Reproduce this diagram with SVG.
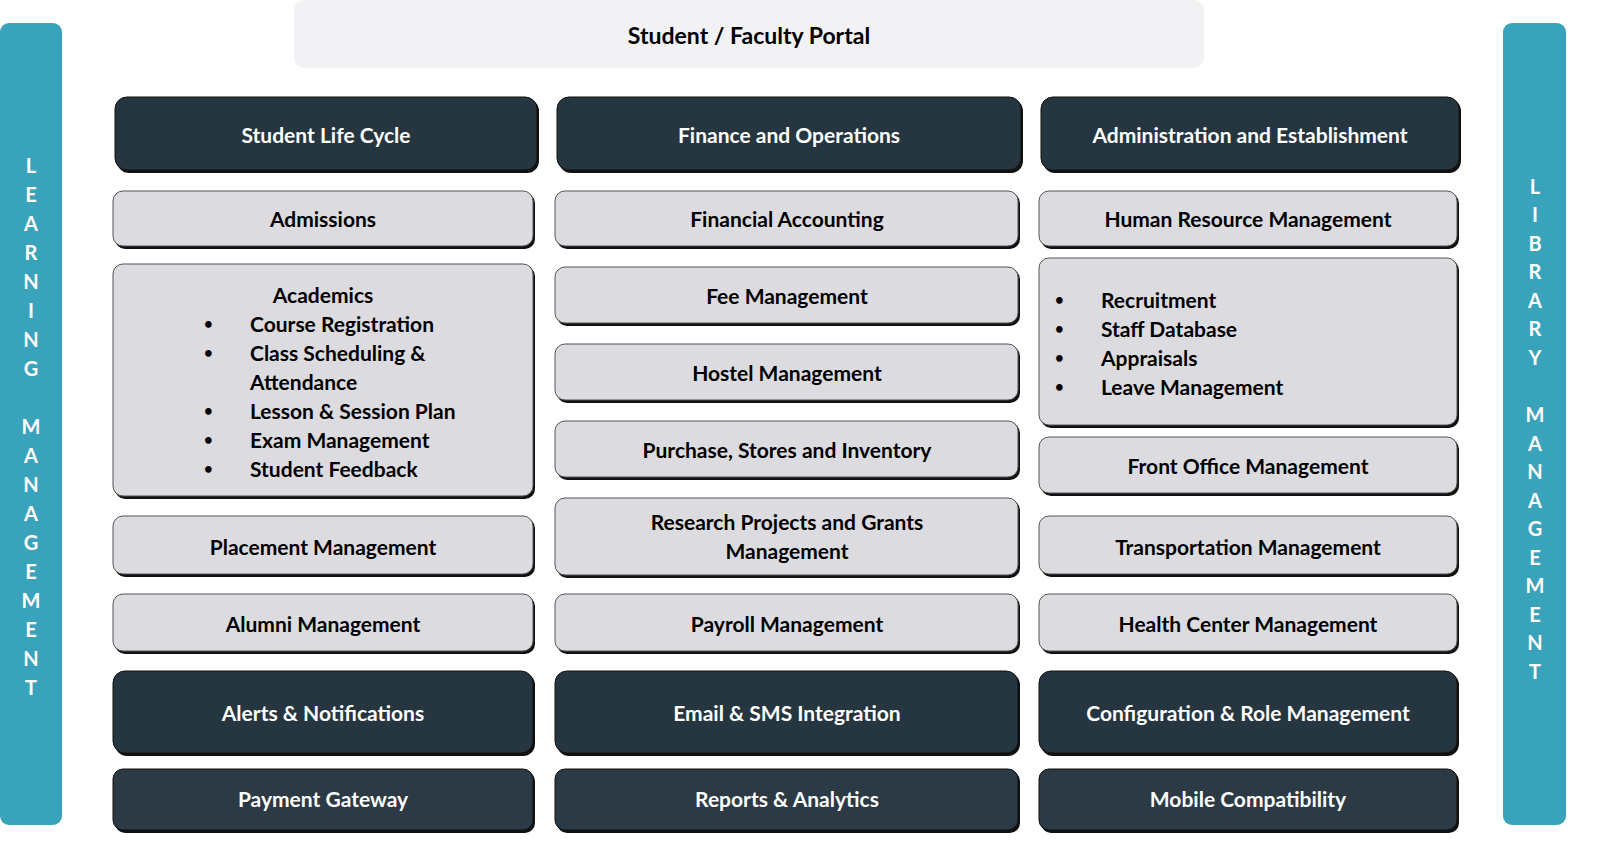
<svg xmlns="http://www.w3.org/2000/svg" width="1600" height="853" viewBox="0 0 1600 853">
<style>
text{font-family:Lato,"Open Sans","Liberation Sans",sans-serif;font-weight:bold;font-size:21px;text-anchor:middle;dominant-baseline:central}
.sh{fill:#111}
.lt{fill:#dcdbdf;stroke:#555;stroke-width:1}
.dk{fill:#263640;stroke:#111;stroke-width:1}
.bt{fill:#2b3a44;stroke:#111;stroke-width:1}
.w{fill:#fff}
.b{fill:#000}
.v{fill:#fff;font-size:20px}
.l{text-anchor:start}
.bu{font-size:15px}
</style>
<g id="learning">
<rect x="0" y="23" width="62" height="802" rx="9" fill="#3aa3bc"/>
<text class="v" x="31" y="165">L</text><text class="v" x="31" y="194">E</text><text class="v" x="31" y="223">A</text><text class="v" x="31" y="252">R</text><text class="v" x="31" y="281">N</text><text class="v" x="31" y="310">I</text><text class="v" x="31" y="339">N</text><text class="v" x="31" y="368">G</text>
<text class="v" x="31" y="426">M</text><text class="v" x="31" y="455">A</text><text class="v" x="31" y="484">N</text><text class="v" x="31" y="513">A</text><text class="v" x="31" y="542">G</text><text class="v" x="31" y="571">E</text><text class="v" x="31" y="600">M</text><text class="v" x="31" y="629">E</text><text class="v" x="31" y="658">N</text><text class="v" x="31" y="687">T</text>
</g>
<g id="library">
<rect x="1503" y="23" width="63" height="802" rx="9" fill="#3aa3bc"/>
<text class="v" x="1535" y="186">L</text><text class="v" x="1535" y="214">I</text><text class="v" x="1535" y="243">B</text><text class="v" x="1535" y="271">R</text><text class="v" x="1535" y="300">A</text><text class="v" x="1535" y="328">R</text><text class="v" x="1535" y="357">Y</text>
<text class="v" x="1535" y="414">M</text><text class="v" x="1535" y="443">A</text><text class="v" x="1535" y="471">N</text><text class="v" x="1535" y="500">A</text><text class="v" x="1535" y="528">G</text><text class="v" x="1535" y="557">E</text><text class="v" x="1535" y="585">M</text><text class="v" x="1535" y="614">E</text><text class="v" x="1535" y="642">N</text><text class="v" x="1535" y="671">T</text>
</g>
<g id="portal"><rect x="294" y="0" width="910" height="68" rx="10" fill="#f2f1f4"/><text class="b" x="749" y="35" style="font-size:23px">Student / Faculty Portal</text></g>

<g id="h1"><rect class="sh" x="117" y="99" width="422" height="74" rx="12"/><rect class="dk" x="115" y="97" width="422" height="73" rx="12"/><text class="w" x="326" y="134">Student Life Cycle</text></g>
<g id="h2"><rect class="sh" x="559" y="99" width="464" height="74" rx="12"/><rect class="dk" x="557" y="97" width="464" height="73" rx="12"/><text class="w" x="789" y="134">Finance and Operations</text></g>
<g id="h3"><rect class="sh" x="1043" y="99" width="418" height="74" rx="12"/><rect class="dk" x="1041" y="97" width="418" height="73" rx="12"/><text class="w" x="1250" y="134">Administration and Establishment</text></g>

<g id="admissions"><rect class="sh" x="115" y="193" width="420" height="56" rx="10"/><rect class="lt" x="113" y="191" width="420" height="55" rx="10"/><text class="b" x="323" y="218">Admissions</text></g>
<g id="academics"><rect class="sh" x="115" y="266" width="420" height="233" rx="10"/><rect class="lt" x="113" y="264" width="420" height="232" rx="10"/>
<text class="b" x="323" y="294">Academics</text>
<text class="b l bu" x="204" y="323">•</text><text class="b l" x="250" y="323">Course Registration</text>
<text class="b l bu" x="204" y="352">•</text><text class="b l" x="250" y="352">Class Scheduling &amp;</text>
<text class="b l" x="250" y="381">Attendance</text>
<text class="b l bu" x="204" y="410">•</text><text class="b l" x="250" y="410">Lesson &amp; Session Plan</text>
<text class="b l bu" x="204" y="439">•</text><text class="b l" x="250" y="439">Exam Management</text>
<text class="b l bu" x="204" y="468">•</text><text class="b l" x="250" y="468">Student Feedback</text></g>
<g id="placement"><rect class="sh" x="115" y="518" width="420" height="59" rx="10"/><rect class="lt" x="113" y="516" width="420" height="58" rx="10"/><text class="b" x="323" y="546">Placement Management</text></g>
<g id="alumni"><rect class="sh" x="115" y="596" width="420" height="58" rx="10"/><rect class="lt" x="113" y="594" width="420" height="57" rx="10"/><text class="b" x="323" y="623">Alumni Management</text></g>
<g id="alerts"><rect class="sh" x="115" y="673" width="420" height="83" rx="12"/><rect class="dk" x="113" y="671" width="420" height="82" rx="12"/><text class="w" x="323" y="712">Alerts &amp; Notifications</text></g>
<g id="payment"><rect class="sh" x="115" y="771" width="420" height="62" rx="10"/><rect class="bt" x="113" y="769" width="420" height="61" rx="10"/><text class="w" x="323" y="798">Payment Gateway</text></g>

<g id="financial"><rect class="sh" x="557" y="193" width="463" height="56" rx="10"/><rect class="lt" x="555" y="191" width="463" height="55" rx="10"/><text class="b" x="787" y="218">Financial Accounting</text></g>
<g id="fee"><rect class="sh" x="557" y="269" width="463" height="57" rx="10"/><rect class="lt" x="555" y="267" width="463" height="56" rx="10"/><text class="b" x="787" y="295">Fee Management</text></g>
<g id="hostel"><rect class="sh" x="557" y="346" width="463" height="57" rx="10"/><rect class="lt" x="555" y="344" width="463" height="56" rx="10"/><text class="b" x="787" y="372">Hostel Management</text></g>
<g id="purchase"><rect class="sh" x="557" y="423" width="463" height="57" rx="10"/><rect class="lt" x="555" y="421" width="463" height="56" rx="10"/><text class="b" x="787" y="449">Purchase, Stores and Inventory</text></g>
<g id="research"><rect class="sh" x="557" y="500" width="463" height="78" rx="10"/><rect class="lt" x="555" y="498" width="463" height="77" rx="10"/><text class="b" x="787" y="521">Research Projects and Grants</text><text class="b" x="787" y="550">Management</text></g>
<g id="payroll"><rect class="sh" x="557" y="596" width="463" height="58" rx="10"/><rect class="lt" x="555" y="594" width="463" height="57" rx="10"/><text class="b" x="787" y="623">Payroll Management</text></g>
<g id="email"><rect class="sh" x="557" y="673" width="463" height="83" rx="12"/><rect class="dk" x="555" y="671" width="463" height="82" rx="12"/><text class="w" x="787" y="712">Email &amp; SMS Integration</text></g>
<g id="reports"><rect class="sh" x="557" y="771" width="463" height="62" rx="10"/><rect class="bt" x="555" y="769" width="463" height="61" rx="10"/><text class="w" x="787" y="798">Reports &amp; Analytics</text></g>

<g id="hrm"><rect class="sh" x="1041" y="193" width="418" height="56" rx="10"/><rect class="lt" x="1039" y="191" width="418" height="55" rx="10"/><text class="b" x="1248" y="218">Human Resource Management</text></g>
<g id="hrlist"><rect class="sh" x="1041" y="260" width="418" height="168" rx="10"/><rect class="lt" x="1039" y="258" width="418" height="167" rx="10"/>
<text class="b l bu" x="1055" y="299">•</text><text class="b l" x="1101" y="299">Recruitment</text>
<text class="b l bu" x="1055" y="328">•</text><text class="b l" x="1101" y="328">Staff Database</text>
<text class="b l bu" x="1055" y="357">•</text><text class="b l" x="1101" y="357">Appraisals</text>
<text class="b l bu" x="1055" y="386">•</text><text class="b l" x="1101" y="386">Leave Management</text></g>
<g id="frontoffice"><rect class="sh" x="1041" y="439" width="418" height="57" rx="10"/><rect class="lt" x="1039" y="437" width="418" height="56" rx="10"/><text class="b" x="1248" y="465">Front Office Management</text></g>
<g id="transport"><rect class="sh" x="1041" y="518" width="418" height="59" rx="10"/><rect class="lt" x="1039" y="516" width="418" height="58" rx="10"/><text class="b" x="1248" y="546">Transportation Management</text></g>
<g id="health"><rect class="sh" x="1041" y="596" width="418" height="58" rx="10"/><rect class="lt" x="1039" y="594" width="418" height="57" rx="10"/><text class="b" x="1248" y="623">Health Center Management</text></g>
<g id="config"><rect class="sh" x="1041" y="673" width="418" height="83" rx="12"/><rect class="dk" x="1039" y="671" width="418" height="82" rx="12"/><text class="w" x="1248" y="712">Configuration &amp; Role Management</text></g>
<g id="mobile"><rect class="sh" x="1041" y="771" width="418" height="62" rx="10"/><rect class="bt" x="1039" y="769" width="418" height="61" rx="10"/><text class="w" x="1248" y="798">Mobile Compatibility</text></g>
<g id="connectors"/>
</svg>
